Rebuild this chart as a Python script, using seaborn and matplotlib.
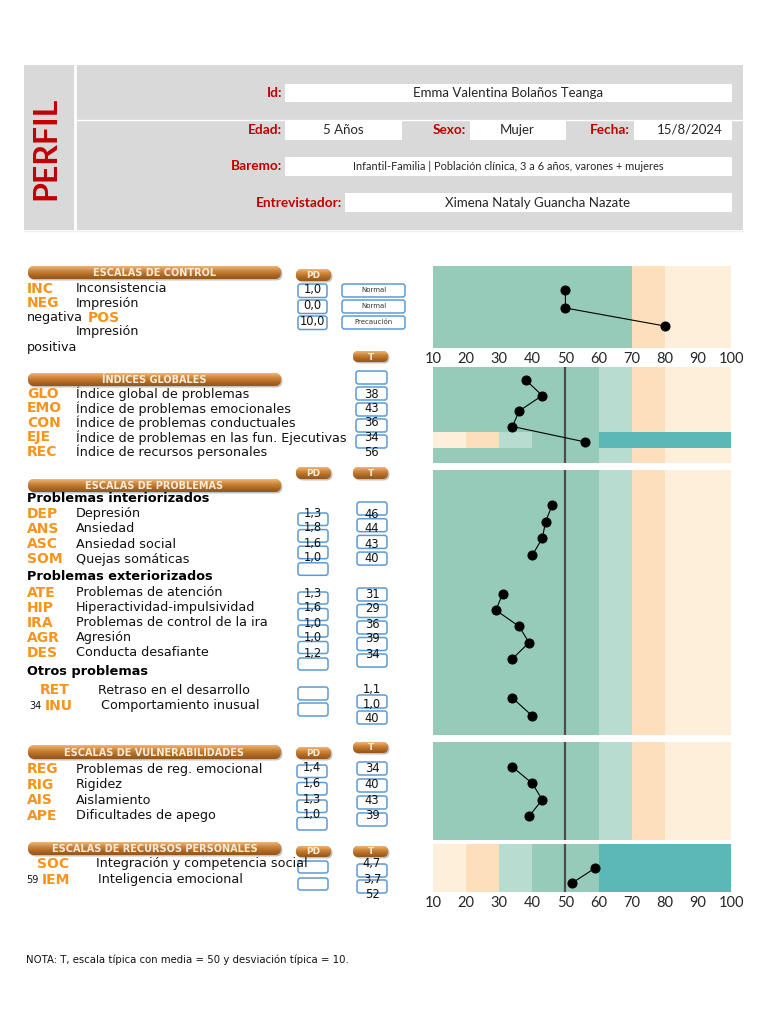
import numpy as np
import pandas as pd
import matplotlib
matplotlib.use("Agg")
import matplotlib.pyplot as plt
import seaborn as sns
from matplotlib.patches import FancyBboxPatch, Rectangle
from matplotlib.colors import LinearSegmentedColormap

sns.set_theme(style="white")
plt.rcParams['font.family'] = ['DejaVu Sans']

# ---- data ----
header_id = "Emma Valentina Bolaños Teanga"
header_edad = "5 Años"
header_sexo = "Mujer"
header_fecha = "15/8/2024"
header_baremo = "Infantil-Familia | Población clínica, 3 a 6 años, varones + mujeres"
header_entrev = "Ximena Nataly Guancha Nazate"

control_codes = ["INC", "NEG", "POS"]
control_names = ["Inconsistencia", "Impresión negativa", "Impresión positiva"]
control_pd = ["1,0", "0,0", "10,0"]
control_status = ["Normal", "Normal", "Precaución"]
control_t = [50, 50, 80]

global_codes = ["GLO", "EMO", "CON", "EJE", "REC"]
global_names = ["Índice global de problemas", "Índice de problemas emocionales",
                "Índice de problemas conductuales",
                "Índice de problemas en las fun. Ejecutivas",
                "Índice de recursos personales"]
global_t = [38, 43, 36, 34, 56]

int_codes = ["DEP", "ANS", "ASC", "SOM"]
int_names = ["Depresión", "Ansiedad", "Ansiedad social", "Quejas somáticas"]
int_pd = ["1,3", "1,8", "1,6", "1,0"]
int_t = [46, 44, 43, 40]

ext_codes = ["ATE", "HIP", "IRA", "AGR", "DES"]
ext_names = ["Problemas de atención", "Hiperactividad-impulsividad",
             "Problemas de control de la ira", "Agresión", "Conducta desafiante"]
ext_pd = ["1,3", "1,6", "1,0", "1,0", "1,2"]
ext_t = [31, 29, 36, 39, 34]

otros_codes = ["RET", "INU"]
otros_names = ["Retraso en el desarrollo", "Comportamiento inusual"]
otros_pd = ["1,1", "1,0"]
otros_t = [34, 40]

vul_codes = ["REG", "RIG", "AIS", "APE"]
vul_names = ["Problemas de reg. emocional", "Rigidez", "Aislamiento", "Dificultades de apego"]
vul_pd = ["1,4", "1,6", "1,3", "1,0"]
vul_t = [34, 40, 43, 39]

rec_codes = ["SOC", "IEM"]
rec_names = ["Integración y competencia social", "Inteligencia emocional"]
rec_pd = ["4,7", "3,7"]
rec_t = [59, 52]

ticks = list(range(10, 101, 10))

# ---- colours ----
GREEN = "#95cbb8"
LIGHT = "#b8dccf"
PEACH = "#fde0bb"
CREAM = "#feefdb"
TEAL = "#5cb7b7"
ORANGE = "#f7941d"
RED = "#c00000"
BLUE = "#5b9bd5"

band_std = [(10, 60, GREEN), (60, 70, LIGHT), (70, 80, PEACH), (80, 100, CREAM)]
band_ctl = [(10, 70, GREEN), (70, 80, PEACH), (80, 100, CREAM)]
band_rev = [(10, 20, CREAM), (20, 30, PEACH), (30, 40, LIGHT), (40, 60, GREEN), (60, 100, TEAL)]

fig = plt.figure(figsize=(7.68, 10.24), dpi=100)
bg = fig.add_axes([0, 0, 1, 1])
bg.set_autoscale_on(False)
bg.set_xlim(0, 768)
bg.set_ylim(1024, 0)
bg.axis("off")


def txt(x, y, s, **kw):
    kw.setdefault("va", "center")
    kw.setdefault("fontsize", 8)
    bg.text(x, y, s, **kw)


def box(x0, y0, x1, y1, ec=BLUE, fc="white", lw=1.1, r=2.5):
    bg.add_patch(FancyBboxPatch((x0, y0), x1 - x0, y1 - y0,
                                boxstyle=f"round,pad=0,rounding_size={r}",
                                ec=ec, fc=fc, lw=lw))


grad_cmap = LinearSegmentedColormap.from_list("pill", ["#efb57a", "#d08a3c", "#b06a25", "#93561b"])


def pill(x0, y0, x1, y1, label, fs=7):
    r = (y1 - y0) / 2
    bg.add_patch(FancyBboxPatch((x0 + 1.5, y0 + 1.5), x1 - x0, y1 - y0,
                                boxstyle=f"round,pad=0,rounding_size={r}",
                                ec="none", fc="#9a9a9a", alpha=0.6))
    p = FancyBboxPatch((x0, y0), x1 - x0, y1 - y0,
                       boxstyle=f"round,pad=0,rounding_size={r}",
                       ec="none", fc="#c98437")
    bg.add_patch(p)
    g = np.linspace(0, 1, 64).reshape(-1, 1)
    im = bg.imshow(g, extent=(x0, x1, y1, y0), cmap=grad_cmap, aspect="auto",
                   origin="upper", zorder=2)
    im.set_clip_path(p)
    txt((x0 + x1) / 2, (y0 + y1) / 2 + 0.5, label, ha="center", fontsize=fs,
        color="#f8ecdc", fontweight="bold", zorder=3)


# ---- header ----
bg.add_patch(Rectangle((24, 65), 719, 165, fc="#d9d9d9", ec="none"))
bg.plot([75, 75], [65, 230], color="white", lw=2)
bg.plot([75, 743], [120, 120], color="white", lw=1)
bg.plot([24, 743], [231, 231], color="#eeeeee", lw=1)
bg.text(46, 148, "PERFIL", rotation=90, ha="center", va="center", color=RED,
        fontsize=23, fontweight="bold", family="Lato")

HF = dict(family="Lato", fontsize=9.5)
LF = dict(family="Lato", fontsize=9.8, fontweight="bold", color=RED, ha="right")
for (x0, y0, x1, y1) in [(285, 84, 732, 102), (285, 121, 402, 140), (470, 121, 566, 140),
                         (634, 121, 732, 140), (285, 157, 732, 176), (345, 193, 732, 212)]:
    bg.add_patch(Rectangle((x0, y0), x1 - x0, y1 - y0, fc="white", ec="none"))
txt(282, 93, "Id:", **LF)
txt(508, 93, header_id, ha="center", **HF)
txt(282, 130, "Edad:", **LF)
txt(343, 130, header_edad, ha="center", **HF)
txt(466, 130, "Sexo:", **LF)
txt(517, 130, header_sexo, ha="center", **HF)
txt(630, 130, "Fecha:", **LF)
txt(690, 130, header_fecha, ha="center", **HF)
txt(282, 166, "Baremo:", **LF)
txt(508, 166, header_baremo, ha="center", family="Lato", fontsize=7.9)
txt(342, 203, "Entrevistador:", **LF)
txt(538, 203, header_entrev, ha="center", **HF)

# ---- left side ----
CODE = dict(color=ORANGE, fontweight="bold", fontsize=10)
NAME = dict(fontsize=9.2, color="#111111")
VAL = dict(fontsize=8.3, ha="center", color="#111111")

# control
pill(28, 266, 281, 279, "ESCALAS DE CONTROL")
pill(296, 269, 331, 281, "PD", fs=6.5)
pill(353, 351, 388, 362, "T", fs=6.5)
txt(27, 289, control_codes[0], **CODE)
txt(76, 289, control_names[0], **NAME)
txt(27, 303, control_codes[1], **CODE)
w1, w2 = control_names[1].split(" ")
txt(76, 303, w1, **NAME)
txt(27, 318, w2, **NAME)
txt(88, 318, control_codes[2], **CODE)
w1, w2 = control_names[2].split(" ")
txt(76, 332, w1, **NAME)
txt(27, 347, w2, **NAME)
for i, (pdv, st) in enumerate(zip(control_pd, control_status)):
    y0 = 284 + 16 * i
    box(298, y0, 327, y0 + 13.5)
    txt(312.5, y0 + 6, pdv, **VAL)
    box(342, y0, 405, y0 + 13)
    txt(373.5, y0 + 5.5, st, fontsize=5, ha="center", color="#333333")

# global
pill(28, 373, 281, 386, "ÍNDICES GLOBALES")
for i in range(5):
    y0 = 371 + 16 * i
    box(356, y0, 387, y0 + 13)
for i, (c, n, t) in enumerate(zip(global_codes, global_names, global_t)):
    y = 394 + 14.5 * i
    txt(27, y, c, **CODE)
    txt(76, y, n, **NAME)
    txt(371.5, y, str(t), **VAL)

# problems
pill(28, 479, 281, 492, "ESCALAS DE PROBLEMAS")
pill(296, 467, 331, 479, "PD", fs=6.5)
pill(353, 467, 388, 479, "T", fs=6.5)
SUB = dict(fontsize=9.3, fontweight="bold", color="black")
txt(27, 499, "Problemas interiorizados", **SUB)
for i, (c, n, p, t) in enumerate(zip(int_codes, int_names, int_pd, int_t)):
    y = 514 + 15 * i
    txt(27, y, c, **CODE)
    txt(76, y, n, **NAME)
    box(298, 513 + 16.6 * i, 328, 525.5 + 16.6 * i)
    txt(313, y - 1, p, **VAL)
    box(357, 502 + 16.7 * i, 387, 515 + 16.7 * i)
    txt(372, y, str(t), **VAL)
txt(27, 576, "Problemas exteriorizados", **SUB)
for i, (c, n, p, t) in enumerate(zip(ext_codes, ext_names, ext_pd, ext_t)):
    y = 593 + 15 * i
    txt(27, y, c, **CODE)
    txt(76, y, n, **NAME)
    box(298, 592 + 16.5 * i, 328, 604 + 16.5 * i)
    txt(313, y, p, **VAL)
    box(357, 588 + 16.5 * i, 387, 601 + 16.5 * i)
    txt(372, y + 1, str(t), **VAL)
txt(27, 672, "Otros problemas", **SUB)
txt(40, 690, otros_codes[0], **CODE)
txt(98, 690, otros_names[0], **NAME)
txt(29, 706, str(otros_t[0]), fontsize=7, color="#111111")
txt(45, 706, otros_codes[1], **CODE)
txt(101, 706, otros_names[1], **NAME)
for i in range(2):
    box(298, 687 + 16 * i, 328, 700 + 16 * i)
    box(357, 695 + 16 * i, 387, 708 + 16 * i)
    txt(372, 690 + 14.5 * i, otros_pd[i], **VAL)
txt(372, 719, str(otros_t[1]), **VAL)

# vulnerabilities
pill(28, 745, 281, 759, "ESCALAS DE VULNERABILIDADES")
pill(296, 747, 331, 759, "PD", fs=6.5)
pill(353, 742, 388, 753, "T", fs=6.5)
for i, (c, n, p, t) in enumerate(zip(vul_codes, vul_names, vul_pd, vul_t)):
    y = 769 + 15.6 * i
    txt(27, y, c, **CODE)
    txt(76, y, n, **NAME)
    box(297, 765 + 17.5 * i, 327, 777.5 + 17.5 * i)
    txt(312, y - 1, p, **VAL)
    box(357, 762 + 17 * i, 387, 775 + 17 * i)
    txt(372, y, str(t), **VAL)

# personal resources
pill(28, 842, 281, 855, "ESCALAS DE RECURSOS PERSONALES")
pill(296, 846, 331, 857, "PD", fs=6.5)
pill(353, 846, 388, 857, "T", fs=6.5)
txt(37, 864, rec_codes[0], **CODE)
txt(96, 864, rec_names[0], **NAME)
txt(26, 880, str(rec_t[0]), fontsize=7, color="#111111")
txt(42, 880, rec_codes[1], **CODE)
txt(98, 880, rec_names[1], **NAME)
for i in range(2):
    box(298, 861 + 17 * i, 328, 873 + 17 * i)
    box(357, 864 + 16 * i, 387, 877 + 16 * i)
    txt(372, 863 + 16 * i, rec_pd[i], **VAL)
txt(372, 894, str(rec_t[1]), **VAL)

txt(26, 960, "NOTA: T, escala típica con media = 50 y desviación típica = 10.",
    fontsize=7.3, color="#111111")


# ---- profile panels ----
X0, X1 = 433, 731


def panel(top, bottom, bands, show_ticks=False, midline=True):
    ax = fig.add_axes([X0 / 768, 1 - bottom / 1024, (X1 - X0) / 768, (bottom - top) / 1024])
    ax.set_xlim(10, 100)
    ax.set_ylim(bottom, top)
    for lo, hi, c in bands:
        ax.fill_betweenx([top, bottom], lo, hi, color=c, lw=0, zorder=0)
    if midline:
        ax.axvline(50, color="#4d4d4d", lw=1.6, zorder=1)
    for s in ax.spines.values():
        s.set_visible(False)
    ax.set_yticks([])
    if show_ticks:
        ax.set_xticks(ticks)
        ax.set_xticklabels([str(t) for t in ticks], family="Lato", fontsize=10.5)
        ax.tick_params(axis="x", length=0, pad=3)
    else:
        ax.set_xticks([])
    return ax


def profile(ax, values, y_start, step):
    ys = [y_start + step * i for i in range(len(values))]
    df = pd.DataFrame({"t": values, "row": ys})
    sns.lineplot(data=df, x="t", y="row", ax=ax, sort=False, estimator=None,
                 color="black", lw=0.8, marker="o", markersize=6.5,
                 markeredgecolor="black", zorder=3)
    ax.set_xlabel("")
    ax.set_ylabel("")


ax1 = panel(266, 348, band_ctl, show_ticks=True, midline=False)
profile(ax1, control_t, 290, 18)

ax2 = panel(367, 463, band_std)
for lo, hi, c in band_rev:
    ax2.fill_betweenx([432, 448], lo, hi, color=c, lw=0, zorder=0.5)
profile(ax2, global_t, 380, 15.5)

ax3 = panel(470, 735, band_std)
profile(ax3, int_t, 505, 16.7)
profile(ax3, ext_t, 594, 16.2)
profile(ax3, otros_t, 698, 18)

ax4 = panel(742, 840, band_std)
profile(ax4, vul_t, 767, 16.4)

ax5 = panel(844, 892, band_rev, show_ticks=True)
profile(ax5, rec_t, 868, 15)

fig.savefig("out.png", dpi=100)
